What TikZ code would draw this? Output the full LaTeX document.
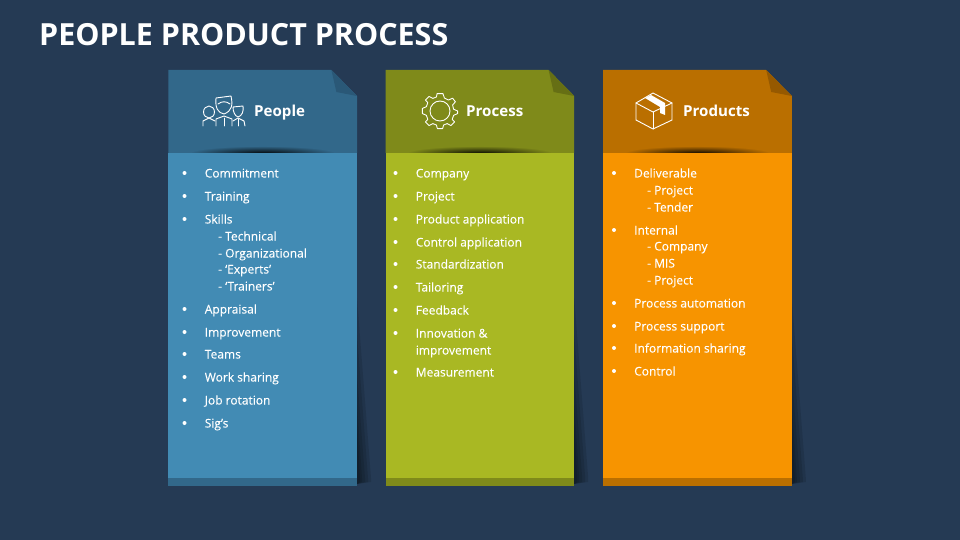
\documentclass[tikz,border=0pt]{standalone}
\usepackage{fontspec}
\setmainfont{Open Sans}
\usetikzlibrary{positioning,shadings,fadings}
\definecolor{bgnavy}{HTML}{253A54}
\definecolor{peoplemain}{HTML}{428BB4}
\definecolor{peopledark}{HTML}{32688A}
\definecolor{peoplefold}{HTML}{2A5877}
\definecolor{processmain}{HTML}{A9B823}
\definecolor{processdark}{HTML}{7F8A1A}
\definecolor{processfold}{HTML}{666F14}
\definecolor{productmain}{HTML}{F79400}
\definecolor{productdark}{HTML}{BA6F00}
\definecolor{productfold}{HTML}{965900}
\tikzfading[name=lensshade,inner color=transparent!10,outer color=transparent!100]
\tikzset{
  title/.style={inner sep=0pt,anchor=west,text=white,text height=22pt,text depth=1pt,font=\bfseries\fontsize{30.45}{36}\selectfont},
  head/.style={inner sep=0pt,anchor=west,text=white,text height=11.5pt,text depth=0pt,font=\bfseries\fontsize{15.1}{18}\selectfont},
  entry/.style={inner sep=0pt,anchor=west,text=white,text height=11pt,text depth=2pt,font=\addfontfeature{FakeBold=0.12}\fontsize{12}{17}\selectfont},
  bullet/.style={circle,fill=white,inner sep=0pt,minimum size=4pt},
  iconline/.style={draw=white,line width=0.9pt,line join=round,line cap=round},
}
% one card: left x, main colour, dark colour, fold colour
\newcommand{\card}[4]{%
  \begin{scope}[xshift=#1]
    \foreach \wd/\tp in {14/228,11/265,8/305,5/335,3/355}{
      \fill[black,opacity=0.11] (188.6,\tp) -- (188.6+\wd,408) -- (188.6+\wd,412) -- (188.6,414) -- cycle;
    }
    \fill[#3] (0,0) -- (163,0) -- (188.6,26) -- (188.6,83) -- (0,83) -- cycle;
    \fill[#2] (0,83) rectangle (188.6,416);
    \fill[#3] (0,408) rectangle (188.6,416);
    \begin{scope}
      \clip (0,0) rectangle (188.6,83);
      \fill[black,path fading=lensshade] (94,83) ellipse (72 and 7);
    \end{scope}
    \fill[#4] (163,0) -- (168,22) -- (188.6,26) -- cycle;
  \end{scope}}
\begin{document}
\begin{tikzpicture}[x=1pt,y=-1pt]
\useasboundingbox (0,0) rectangle (960,540);
\fill[bgnavy] (0,0) rectangle (960,540);
\node[title] (pagetitle) at (39,35) {PEOPLE PRODUCT PROCESS};
\begin{scope}[yshift=-70pt]
  \card{168.4pt}{peoplemain}{peopledark}{peoplefold}
  \card{385.6pt}{processmain}{processdark}{processfold}
  \card{603.2pt}{productmain}{productdark}{productfold}
\end{scope}
\node[head] (people) at (254,111) {People};
\node[head] (process) at (466,111) {Process};
\node[head] (products) at (683,111) {Products};
% people icon
\begin{scope}[iconline]
  \draw (216,126) -- (216,119) -- (224,116) -- (232,119) -- (232,126);
  \draw (216,98) -- (231,96) .. controls (233,105) and (232,111) .. (224,114) .. controls (218,113) and (215,108) .. (216,98);
  \draw (218,104) .. controls (222,101) and (226,101) .. (230,104);
  \draw (224,118) -- (224,126);
  \draw (203,126) -- (203,121) -- (209,118) -- (215,121);
  \draw (209,112) circle (5.5 and 6);
  \draw (233,121) -- (238,118) -- (244,121) -- (245,126);
  \draw (233,107) -- (243,106) .. controls (244,111) and (242,116) .. (238,117) .. controls (235,116) and (233,112) .. (233,107);
  \draw (238,119) -- (238,126);
\end{scope}
% gear icon
\begin{scope}[iconline,shift={(440,111)}]
  \draw (0,0) circle (10);
  \draw (2.9,-17.4) -- (4.4,-13) -- (8.5,-11) -- (12.6,-12.8) -- (15.4,-9.2) -- (12.6,-6) -- (13.6,-1.8) -- (17.6,0) -- (17.6,2.5) -- (13.6,4.4) -- (12.2,8.4) -- (14.6,11) -- (11,14.6) -- (7.2,12.6) -- (3.6,14) -- (2.6,17.6) -- (-2.6,17.6) -- (-3.6,14) -- (-7.2,12.6) -- (-11,14.6) -- (-14.6,11) -- (-12.2,8.4) -- (-13.6,4.4) -- (-17.6,2.5) -- (-17.6,-2.5) -- (-13.6,-4.4) -- (-12.2,-8.4) -- (-14.6,-11) -- (-11,-14.6) -- (-7.2,-12.6) -- (-3.6,-14) -- (-2.9,-17.4) -- cycle;
\end{scope}
% box icon
\begin{scope}[iconline]
  \draw (653,93) -- (672,103) -- (672,120) -- (653,129) -- (636,120) -- (636,103) -- cycle;
  \draw (636,103) -- (653,112) -- (672,103);
  \draw (653,112) -- (653,129);
  \fill[white,draw=none] (645,98) -- (651,95) -- (665,103) -- (665,115) -- (660,113) -- (660,107) -- cycle;
\end{scope}
% people list
\foreach \txt/\yy in {Commitment/173,Training/196,Skills/219,Appraisal/309,Improvement/332,Teams/354,Work sharing/377,Job rotation/400,Sig’s/423}{
  \node[bullet] at (184.5,\yy) {};
  \node[entry] at (204.6,\yy) {\txt};
}
\foreach \txt/\yy in {Technical/236,Organizational/253,‘Experts’/269,‘Trainers’/286}{
  \node[entry] at (218,\yy) {- \txt};
}
% process list
\foreach \txt/\yy in {Company/173,Project/196,Product application/219,Control application/242,Standardization/264,Tailoring/287,Feedback/310,Innovation \&/333,Measurement/372}{
  \node[entry] at (415.6,\yy) {\txt};
}
\foreach \yy in {173,196,219,242,264,287,310,333,372}{
  \node[bullet] at (395.5,\yy) {};
}
\node[entry] (improve) at (415.6,350) {improvement};
% products list
\foreach \txt/\yy in {Deliverable/173,Internal/230,Process automation/303,Process support/326,Information sharing/348,Control/371}{
  \node[bullet] at (614,\yy) {};
  \node[entry] at (634,\yy) {\txt};
}
\foreach \txt/\yy in {Project/190,Tender/207,Company/246,MIS/263,Project/280}{
  \node[entry] at (647,\yy) {- \txt};
}
\end{tikzpicture}
\end{document}
